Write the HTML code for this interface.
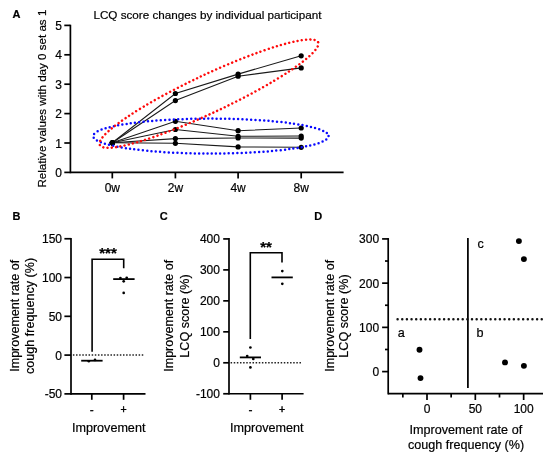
<!DOCTYPE html>
<html><head><meta charset="utf-8"><style>
html,body{margin:0;padding:0;background:#fff;width:550px;height:457px;overflow:hidden}
svg{display:block;will-change:transform}
text{font-family:"Liberation Sans",sans-serif;fill:#000;stroke:#000;stroke-width:0.2px}
</style></head><body>
<svg width="550" height="457" viewBox="0 0 550 457">
<rect width="550" height="457" fill="#fff"/>
<text x="16.5" y="18.2" font-size="11" text-anchor="middle" font-weight="bold">A</text>
<text x="93.4" y="18.9" font-size="11.7" text-anchor="start">LCQ score changes by individual participant</text>
<text x="46.1" y="98.6" font-size="11.6" text-anchor="middle" transform="rotate(-90 46.1 98.6)">Relative values with day 0 set as 1</text>
<line x1="70.4" y1="24.75" x2="70.4" y2="173.25" stroke="#000" stroke-width="1.7"/>
<line x1="64.3" y1="172.4" x2="70.4" y2="172.4" stroke="#000" stroke-width="1.7"/>
<text x="61.9" y="176.9" font-size="12.0" text-anchor="end">0</text>
<line x1="64.3" y1="143" x2="70.4" y2="143" stroke="#000" stroke-width="1.7"/>
<text x="61.9" y="147.5" font-size="12.0" text-anchor="end">1</text>
<line x1="64.3" y1="113.6" x2="70.4" y2="113.6" stroke="#000" stroke-width="1.7"/>
<text x="61.9" y="118.1" font-size="12.0" text-anchor="end">2</text>
<line x1="64.3" y1="84.2" x2="70.4" y2="84.2" stroke="#000" stroke-width="1.7"/>
<text x="61.9" y="88.7" font-size="12.0" text-anchor="end">3</text>
<line x1="64.3" y1="54.8" x2="70.4" y2="54.8" stroke="#000" stroke-width="1.7"/>
<text x="61.9" y="59.3" font-size="12.0" text-anchor="end">4</text>
<line x1="64.3" y1="25.4" x2="70.4" y2="25.4" stroke="#000" stroke-width="1.7"/>
<text x="61.9" y="29.9" font-size="12.0" text-anchor="end">5</text>
<line x1="70.4" y1="172.4" x2="343.6" y2="172.4" stroke="#000" stroke-width="1.7"/>
<line x1="112.3" y1="172.4" x2="112.3" y2="178.4" stroke="#000" stroke-width="1.7"/>
<text x="112.3" y="191.8" font-size="12.0" text-anchor="middle">0w</text>
<line x1="175.4" y1="172.4" x2="175.4" y2="178.4" stroke="#000" stroke-width="1.7"/>
<text x="175.4" y="191.8" font-size="12.0" text-anchor="middle">2w</text>
<line x1="238.1" y1="172.4" x2="238.1" y2="178.4" stroke="#000" stroke-width="1.7"/>
<text x="238.1" y="191.8" font-size="12.0" text-anchor="middle">4w</text>
<line x1="301.2" y1="172.4" x2="301.2" y2="178.4" stroke="#000" stroke-width="1.7"/>
<text x="301.2" y="191.8" font-size="12.0" text-anchor="middle">8w</text>
<polyline points="112.3,142.8 175.4,93.5 238.1,74.1 301.2,55.8" fill="none" stroke="#1a1a1a" stroke-width="1.1"/>
<polyline points="112.3,142.8 175.4,100.6 238.1,76.2 301.2,67.9" fill="none" stroke="#1a1a1a" stroke-width="1.1"/>
<polyline points="112.3,142.8 175.4,121.3 238.1,130.7 301.2,128" fill="none" stroke="#1a1a1a" stroke-width="1.1"/>
<polyline points="112.3,142.8 175.4,129.5 238.1,136.3 301.2,136" fill="none" stroke="#1a1a1a" stroke-width="1.1"/>
<polyline points="112.3,142.8 175.4,138.6 238.1,138 301.2,138.1" fill="none" stroke="#1a1a1a" stroke-width="1.1"/>
<polyline points="112.3,142.8 175.4,143.3 238.1,146.9 301.2,147.3" fill="none" stroke="#1a1a1a" stroke-width="1.1"/>
<circle cx="112.3" cy="142.8" r="2.6" fill="#000"/>
<circle cx="175.4" cy="93.5" r="2.6" fill="#000"/>
<circle cx="238.1" cy="74.1" r="2.6" fill="#000"/>
<circle cx="301.2" cy="55.8" r="2.6" fill="#000"/>
<circle cx="112.3" cy="142.8" r="2.6" fill="#000"/>
<circle cx="175.4" cy="100.6" r="2.6" fill="#000"/>
<circle cx="238.1" cy="76.2" r="2.6" fill="#000"/>
<circle cx="301.2" cy="67.9" r="2.6" fill="#000"/>
<circle cx="112.3" cy="142.8" r="2.6" fill="#000"/>
<circle cx="175.4" cy="121.3" r="2.6" fill="#000"/>
<circle cx="238.1" cy="130.7" r="2.6" fill="#000"/>
<circle cx="301.2" cy="128" r="2.6" fill="#000"/>
<circle cx="112.3" cy="142.8" r="2.6" fill="#000"/>
<circle cx="175.4" cy="129.5" r="2.6" fill="#000"/>
<circle cx="238.1" cy="136.3" r="2.6" fill="#000"/>
<circle cx="301.2" cy="136" r="2.6" fill="#000"/>
<circle cx="112.3" cy="142.8" r="2.6" fill="#000"/>
<circle cx="175.4" cy="138.6" r="2.6" fill="#000"/>
<circle cx="238.1" cy="138" r="2.6" fill="#000"/>
<circle cx="301.2" cy="138.1" r="2.6" fill="#000"/>
<circle cx="112.3" cy="142.8" r="2.6" fill="#000"/>
<circle cx="175.4" cy="143.3" r="2.6" fill="#000"/>
<circle cx="238.1" cy="146.9" r="2.6" fill="#000"/>
<circle cx="301.2" cy="147.3" r="2.6" fill="#000"/>
<ellipse cx="210.86" cy="136.09" rx="117.7" ry="17.47" fill="none" stroke="#0a0aff" stroke-width="2.5" stroke-dasharray="0 4.3" stroke-linecap="round"/>
<ellipse cx="0" cy="0" rx="120.65" ry="19.02" fill="none" stroke="#ff0a0a" stroke-width="2.5" stroke-dasharray="0 4.3" stroke-linecap="round" transform="translate(208.97 93.66) rotate(-25.19)"/>
<text x="16.5" y="220.2" font-size="11" text-anchor="middle" font-weight="bold">B</text>
<line x1="71" y1="237.9" x2="71" y2="394.74" stroke="#000" stroke-width="1.7"/>
<line x1="64.4" y1="238.75" x2="71" y2="238.75" stroke="#000" stroke-width="1.7"/>
<text x="62.05" y="243.25" font-size="12.0" text-anchor="end">150</text>
<line x1="64.4" y1="277.53" x2="71" y2="277.53" stroke="#000" stroke-width="1.7"/>
<text x="62.05" y="282.03" font-size="12.0" text-anchor="end">100</text>
<line x1="64.4" y1="316.32" x2="71" y2="316.32" stroke="#000" stroke-width="1.7"/>
<text x="62.05" y="320.82" font-size="12.0" text-anchor="end">50</text>
<line x1="64.4" y1="355.1" x2="71" y2="355.1" stroke="#000" stroke-width="1.7"/>
<text x="62.05" y="359.6" font-size="12.0" text-anchor="end">0</text>
<line x1="64.4" y1="393.88" x2="71" y2="393.88" stroke="#000" stroke-width="1.7"/>
<text x="62.05" y="398.38" font-size="12.0" text-anchor="end">-50</text>
<line x1="71" y1="393.88" x2="145.5" y2="393.88" stroke="#000" stroke-width="1.7"/>
<line x1="91.8" y1="393.88" x2="91.8" y2="399.8" stroke="#000" stroke-width="1.7"/>
<text x="91.8" y="413.7" font-size="12.0" text-anchor="middle">-</text>
<line x1="123.6" y1="393.88" x2="123.6" y2="399.8" stroke="#000" stroke-width="1.7"/>
<text x="123.6" y="413.3" font-size="10.5" text-anchor="middle" style="stroke-width:0.45px">+</text>
<text x="108.65" y="431.9" font-size="12.6" text-anchor="middle">Improvement</text>
<text x="19" y="315.8" font-size="12.5" text-anchor="middle" transform="rotate(-90 19 315.8)">Improvement rate of</text>
<text x="33.9" y="316" font-size="12.6" text-anchor="middle" transform="rotate(-90 33.9 316)">cough frequency (%)</text>
<path d="M92.1,351.8 V259.3 H123.7 V268.2" fill="none" stroke="#000" stroke-width="1.6"/>
<text x="108" y="258.1" font-size="15" text-anchor="middle" font-weight="bold">***</text>
<line x1="72.9" y1="355.1" x2="144" y2="355.1" stroke="#222" stroke-width="1.5" stroke-dasharray="1.5 1.63"/>
<line x1="81.2" y1="360.7" x2="102.6" y2="360.7" stroke="#000" stroke-width="1.8"/>
<circle cx="88.8" cy="361.3" r="1.3" fill="#000"/>
<circle cx="95" cy="359.9" r="1.3" fill="#000"/>
<line x1="113.2" y1="279.1" x2="134.6" y2="279.1" stroke="#000" stroke-width="1.8"/>
<circle cx="120.4" cy="278.1" r="1.35" fill="#000"/>
<circle cx="123.7" cy="281.3" r="1.35" fill="#000"/>
<circle cx="126.7" cy="277.8" r="1.35" fill="#000"/>
<circle cx="123.7" cy="292.9" r="1.35" fill="#000"/>
<text x="163.8" y="220.2" font-size="11" text-anchor="middle" font-weight="bold">C</text>
<line x1="229" y1="238.07" x2="229" y2="394.62" stroke="#000" stroke-width="1.7"/>
<line x1="223.2" y1="238.92" x2="229" y2="238.92" stroke="#000" stroke-width="1.7"/>
<text x="219.95" y="243.42" font-size="12.0" text-anchor="end">400</text>
<line x1="223.2" y1="269.89" x2="229" y2="269.89" stroke="#000" stroke-width="1.7"/>
<text x="219.95" y="274.39" font-size="12.0" text-anchor="end">300</text>
<line x1="223.2" y1="300.86" x2="229" y2="300.86" stroke="#000" stroke-width="1.7"/>
<text x="219.95" y="305.36" font-size="12.0" text-anchor="end">200</text>
<line x1="223.2" y1="331.83" x2="229" y2="331.83" stroke="#000" stroke-width="1.7"/>
<text x="219.95" y="336.33" font-size="12.0" text-anchor="end">100</text>
<line x1="223.2" y1="362.8" x2="229" y2="362.8" stroke="#000" stroke-width="1.7"/>
<text x="219.95" y="367.3" font-size="12.0" text-anchor="end">0</text>
<line x1="223.2" y1="393.77" x2="229" y2="393.77" stroke="#000" stroke-width="1.7"/>
<text x="219.95" y="398.27" font-size="12.0" text-anchor="end">-100</text>
<line x1="229" y1="393.77" x2="303.6" y2="393.77" stroke="#000" stroke-width="1.7"/>
<line x1="250.4" y1="393.77" x2="250.4" y2="399.8" stroke="#000" stroke-width="1.7"/>
<text x="250.4" y="413.7" font-size="12.0" text-anchor="middle">-</text>
<line x1="282.1" y1="393.77" x2="282.1" y2="399.8" stroke="#000" stroke-width="1.7"/>
<text x="282.1" y="413.3" font-size="10.5" text-anchor="middle" style="stroke-width:0.45px">+</text>
<text x="266.7" y="431.9" font-size="12.6" text-anchor="middle">Improvement</text>
<text x="173.1" y="315.8" font-size="12.5" text-anchor="middle" transform="rotate(-90 173.1 315.8)">Improvement rate of</text>
<text x="188.5" y="316" font-size="12.6" text-anchor="middle" transform="rotate(-90 188.5 316)">LCQ score (%)</text>
<path d="M250.3,338.9 V252.7 H282 V262.6" fill="none" stroke="#000" stroke-width="1.6"/>
<text x="266.1" y="252.25" font-size="15" text-anchor="middle" font-weight="bold">**</text>
<line x1="230.6" y1="362.8" x2="302" y2="362.8" stroke="#222" stroke-width="1.5" stroke-dasharray="1.5 1.63"/>
<line x1="239.8" y1="357.4" x2="261" y2="357.4" stroke="#000" stroke-width="1.8"/>
<circle cx="250.4" cy="347.5" r="1.35" fill="#000"/>
<circle cx="247.2" cy="356.1" r="1.35" fill="#000"/>
<circle cx="253.3" cy="358.9" r="1.35" fill="#000"/>
<circle cx="250.4" cy="367.4" r="1.35" fill="#000"/>
<line x1="271.5" y1="277.4" x2="292.8" y2="277.4" stroke="#000" stroke-width="1.8"/>
<circle cx="282.3" cy="271.1" r="1.35" fill="#000"/>
<circle cx="282.3" cy="283.8" r="1.35" fill="#000"/>
<text x="318.3" y="220.2" font-size="11" text-anchor="middle" font-weight="bold">D</text>
<line x1="388.2" y1="238.06" x2="388.2" y2="394.45" stroke="#000" stroke-width="1.7"/>
<line x1="382.1" y1="238.91" x2="388.2" y2="238.91" stroke="#000" stroke-width="1.7"/>
<text x="379.1" y="243.41" font-size="12.0" text-anchor="end">300</text>
<line x1="382.1" y1="283.14" x2="388.2" y2="283.14" stroke="#000" stroke-width="1.7"/>
<text x="379.1" y="287.64" font-size="12.0" text-anchor="end">200</text>
<line x1="382.1" y1="327.37" x2="388.2" y2="327.37" stroke="#000" stroke-width="1.7"/>
<text x="379.1" y="331.87" font-size="12.0" text-anchor="end">100</text>
<line x1="382.1" y1="371.6" x2="388.2" y2="371.6" stroke="#000" stroke-width="1.7"/>
<text x="379.1" y="376.1" font-size="12.0" text-anchor="end">0</text>
<line x1="385" y1="261.03" x2="388.2" y2="261.03" stroke="#000" stroke-width="1.7"/>
<line x1="385" y1="305.25" x2="388.2" y2="305.25" stroke="#000" stroke-width="1.7"/>
<line x1="385" y1="349.49" x2="388.2" y2="349.49" stroke="#000" stroke-width="1.7"/>
<line x1="388.2" y1="393.6" x2="543" y2="393.6" stroke="#000" stroke-width="1.7"/>
<line x1="427" y1="393.6" x2="427" y2="400" stroke="#000" stroke-width="1.7"/>
<text x="427" y="413.3" font-size="12.0" text-anchor="middle">0</text>
<line x1="475.32" y1="393.6" x2="475.32" y2="400" stroke="#000" stroke-width="1.7"/>
<text x="475.32" y="413.3" font-size="12.0" text-anchor="middle">50</text>
<line x1="523.65" y1="393.6" x2="523.65" y2="400" stroke="#000" stroke-width="1.7"/>
<text x="523.65" y="413.3" font-size="12.0" text-anchor="middle">100</text>
<line x1="402.84" y1="393.6" x2="402.84" y2="397.5" stroke="#000" stroke-width="1.7"/>
<line x1="451.16" y1="393.6" x2="451.16" y2="397.5" stroke="#000" stroke-width="1.7"/>
<line x1="499.49" y1="393.6" x2="499.49" y2="397.5" stroke="#000" stroke-width="1.7"/>
<line x1="467.9" y1="238" x2="467.9" y2="388" stroke="#000" stroke-width="1.75"/>
<line x1="397.6" y1="319.2" x2="543.5" y2="319.2" stroke="#111" stroke-width="2.5" stroke-dasharray="0 4.65" stroke-linecap="round"/>
<text x="397.7" y="337.2" font-size="12.6" text-anchor="start">a</text>
<text x="476.4" y="337.2" font-size="12.6" text-anchor="start">b</text>
<text x="477.6" y="248.2" font-size="12.6" text-anchor="start">c</text>
<circle cx="419.5" cy="349.8" r="2.95" fill="#000"/>
<circle cx="420.5" cy="378.1" r="2.95" fill="#000"/>
<circle cx="505" cy="362.4" r="2.95" fill="#000"/>
<circle cx="523.9" cy="365.85" r="2.95" fill="#000"/>
<circle cx="518.9" cy="241.1" r="2.95" fill="#000"/>
<circle cx="523.9" cy="259.1" r="2.95" fill="#000"/>
<text x="333.9" y="315.8" font-size="12.5" text-anchor="middle" transform="rotate(-90 333.9 315.8)">Improvement rate of</text>
<text x="348.4" y="316" font-size="12.6" text-anchor="middle" transform="rotate(-90 348.4 316)">LCQ score (%)</text>
<text x="465.8" y="434.3" font-size="12.6" text-anchor="middle">Improvement rate of</text>
<text x="466" y="448.7" font-size="12.6" text-anchor="middle">cough frequency (%)</text>
</svg>
</body></html>
